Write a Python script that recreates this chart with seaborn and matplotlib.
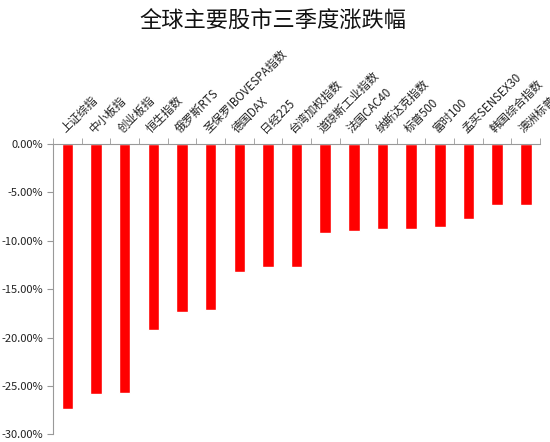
import numpy as np
import pandas as pd
import seaborn as sns
import matplotlib
matplotlib.use("Agg")
import matplotlib.pyplot as plt
import matplotlib.transforms as mtransforms
from matplotlib.ticker import FuncFormatter

indizes = ["上证综指", "中小板指", "创业板指", "恒生指数", "俄罗斯RTS", "圣保罗IBOVESPA指数",
           "德国DAX", "日经225", "台湾加权指数", "道琼斯工业指数", "法国CAC40", "纳斯达克指数",
           "标普500", "富时100", "孟买SENSEX30", "韩国综合指数", "澳洲标普200指数"]
zuwachs = [-27.35, -25.8, -25.7, -19.25, -17.4, -17.1,
           -13.27, -12.68, -12.68, -9.14, -8.94, -8.76,
           -8.76, -8.56, -7.7, -6.26, -6.26]
y_ticks = [0, -5, -10, -15, -20, -25, -30]

df = pd.DataFrame({"Index": indizes, "Wert": zuwachs})

sns.set_style("white")
plt.rcParams["font.family"] = ["Noto Sans CJK SC", "DejaVu Sans"]

fig = plt.figure(figsize=(5.5, 4.42), dpi=100)
ax = fig.add_axes([0.0964, 0.0174, 0.8856, 0.6566])

sns.barplot(data=df, x="Index", y="Wert", color="#ff0000", saturation=1, width=0.4, ax=ax)

ax.set_ylim(-30, 0)
ax.set_xlim(-0.5, len(indizes) - 0.5)
ax.set_yticks(y_ticks)
ax.yaxis.set_major_formatter(FuncFormatter(lambda v, p: f"{v:.2f}%"))
ax.set_xlabel("")
ax.set_ylabel("")

ax.xaxis.tick_top()
ax.set_xticks(range(len(indizes)))
ax.set_xticklabels(indizes, rotation=45, ha="left", rotation_mode="anchor", fontsize=8.3, color="#222222")
# labels sit a bit right of the tick, like in the original
versatz = mtransforms.ScaledTranslation(4 / 72, 0, fig.dpi_scale_trans)
for lbl in ax.get_xticklabels():
    lbl.set_transform(lbl.get_transform() + versatz)
ax.set_xticks(np.arange(-0.5, len(indizes), 1), minor=True)
ax.tick_params(axis="x", which="major", length=0, pad=6)
ax.tick_params(axis="x", which="minor", top=True, length=4, color="#999999", direction="out")
ax.tick_params(axis="y", left=True, length=4, color="#999999", labelsize=8, labelcolor="#222222", pad=3)

for s in ["bottom", "right"]:
    ax.spines[s].set_visible(False)
for s in ["top", "left"]:
    ax.spines[s].set_color("#999999")
    ax.spines[s].set_linewidth(0.8)

fig.text(0.497, 0.955, "全球主要股市三季度涨跌幅", ha="center", va="center", fontsize=16, color="#111111")

plt.savefig("out.png", dpi=100)
